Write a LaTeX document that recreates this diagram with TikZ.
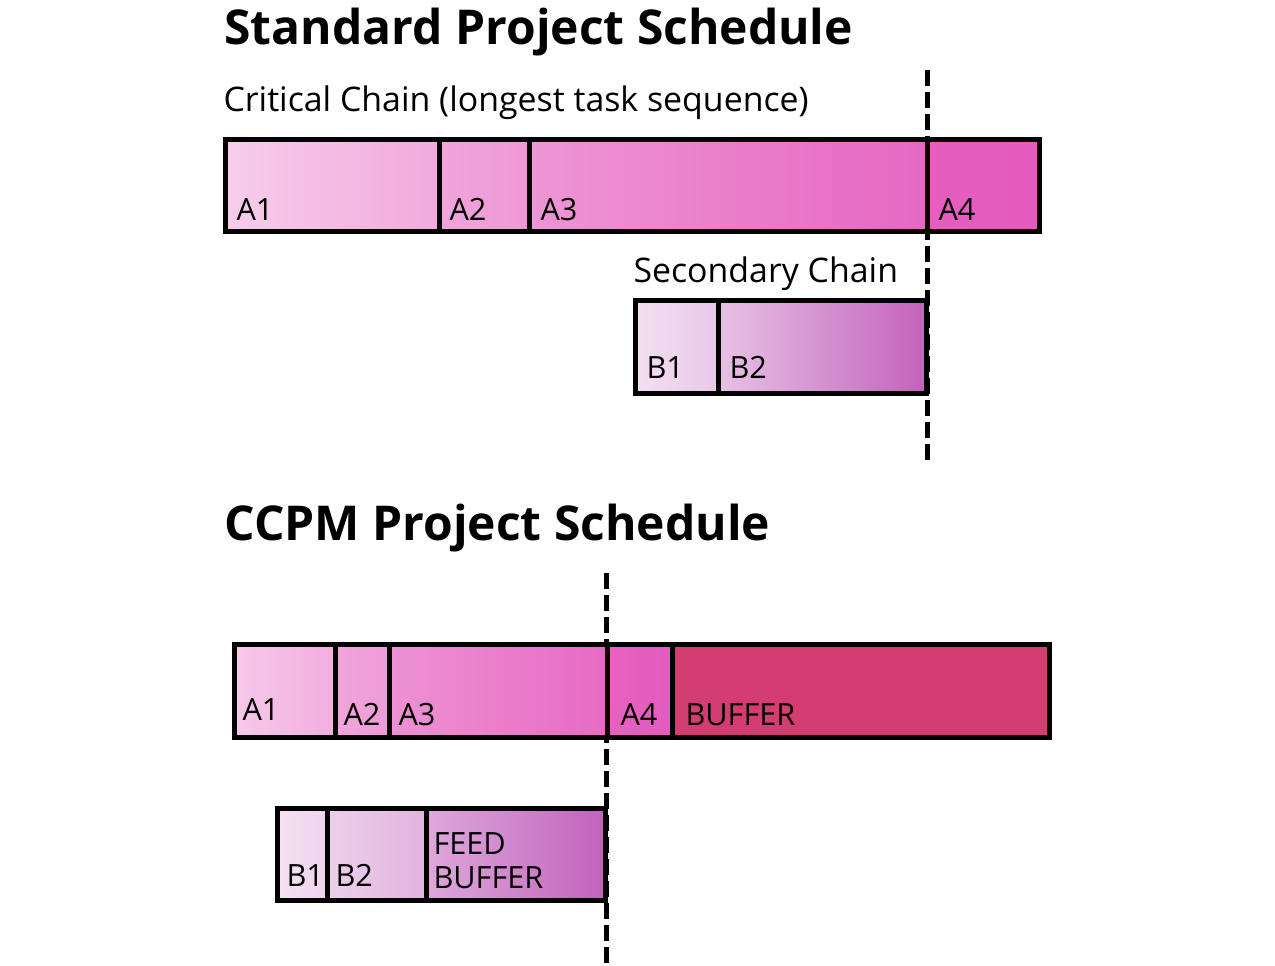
\documentclass[tikz,border=0pt]{standalone}
\usepackage{fontspec}
\setmainfont{Open Sans}
\usetikzlibrary{positioning}
\definecolor{cpink}{HTML}{E45ABD}
\definecolor{cpurple}{HTML}{C262BC}
\definecolor{cbuffer}{HTML}{D43D72}
\tikzset{
  every picture/.style={line width=3.75pt},
  seg/.style 2 args={draw=black, left color=#1, right color=#2},
  lab/.style={anchor=base west, inner sep=0pt, font=\fontsize{23}{25.5}\selectfont},
  sub/.style={anchor=base west, inner sep=0pt, font=\fontsize{25.4}{28}\selectfont},
  title/.style={anchor=base west, inner sep=0pt, font=\bfseries\fontsize{36}{40}\selectfont},
  deadline/.style={draw=black, dash pattern=on 12pt off 4.5pt, line width=3.75pt},
}

\begin{document}
\begin{tikzpicture}[x=0.75pt, y=-0.75pt]
  \useasboundingbox (0,0) rectangle (1275,965);
  % deadlines
  \coordinate (stdTop) at (927,70);  \coordinate (stdBot) at (927,460);
  \coordinate (ccTop) at (606,573);  \coordinate (ccBot) at (606,965);
  \draw[deadline] (stdTop) -- (stdBot);
  \draw[deadline] (ccTop) -- (ccBot);
  % standard schedule
  \node[title] (ttlStd) at (222,44) {Standard Project Schedule};
  \node[sub] (subCrit) at (221,111) {Critical Chain (longest task sequence)};
  \foreach \n/\xa/\xb/\ca/\cb/\lx in {A1/225.5/439/30/52/234, A2/439/529/55/62/447,
                                      A3/529/927/64/92/538, A4/927/1039.5/97/100/936} {
    \draw[seg={cpink!\ca}{cpink!\cb}] (\xa,139.5) rectangle (\xb,231.5);
    \node[lab] (std\n) at (\lx,220) {\n};
  }
  \node[sub] (subSec) at (631,282) {Secondary Chain};
  \foreach \n/\xa/\xb/\ca/\cb/\lx in {B1/635.5/718/20/35/644, B2/718/926.5/39/100/727} {
    \draw[seg={cpurple!\ca}{cpurple!\cb}] (\xa,300.5) rectangle (\xb,393.5);
    \node[lab] (std\n) at (\lx,378) {\n};
  }
  % CCPM schedule
  \node[title] (ttlCcpm) at (222,540) {CCPM Project Schedule};
  \foreach \n/\xa/\xb/\ca/\cb/\lx/\ly in {A1/234.5/335/33/49/240/720, A2/335/389/54/61/341/725,
                                          A3/389/607/66/90/396/725, A4/607/672/95/100/618/725} {
    \draw[seg={cpink!\ca}{cpink!\cb}] (\xa,644.5) rectangle (\xb,737.5);
    \node[lab] (cc\n) at (\lx,\ly) {\n};
  }
  \draw[seg={cbuffer}{cbuffer}] (672,644.5) rectangle (1049.5,737.5);
  \node[lab] (ccBuf) at (683,725) {BUFFER};
  \foreach \n/\xa/\xb/\ca/\cb/\lx in {B1/277.5/327/19/28/284, B2/327/426/30/49/333} {
    \draw[seg={cpurple!\ca}{cpurple!\cb}] (\xa,808.5) rectangle (\xb,900.5);
    \node[lab] (cc\n) at (\lx,886) {\n};
  }
  \draw[seg={cpurple!55}{cpurple}] (426,808.5) rectangle (605,900.5);
  \node[lab, align=left] (ccFeed) at (431,888) {FEED\\BUFFER};
\end{tikzpicture}
\end{document}
